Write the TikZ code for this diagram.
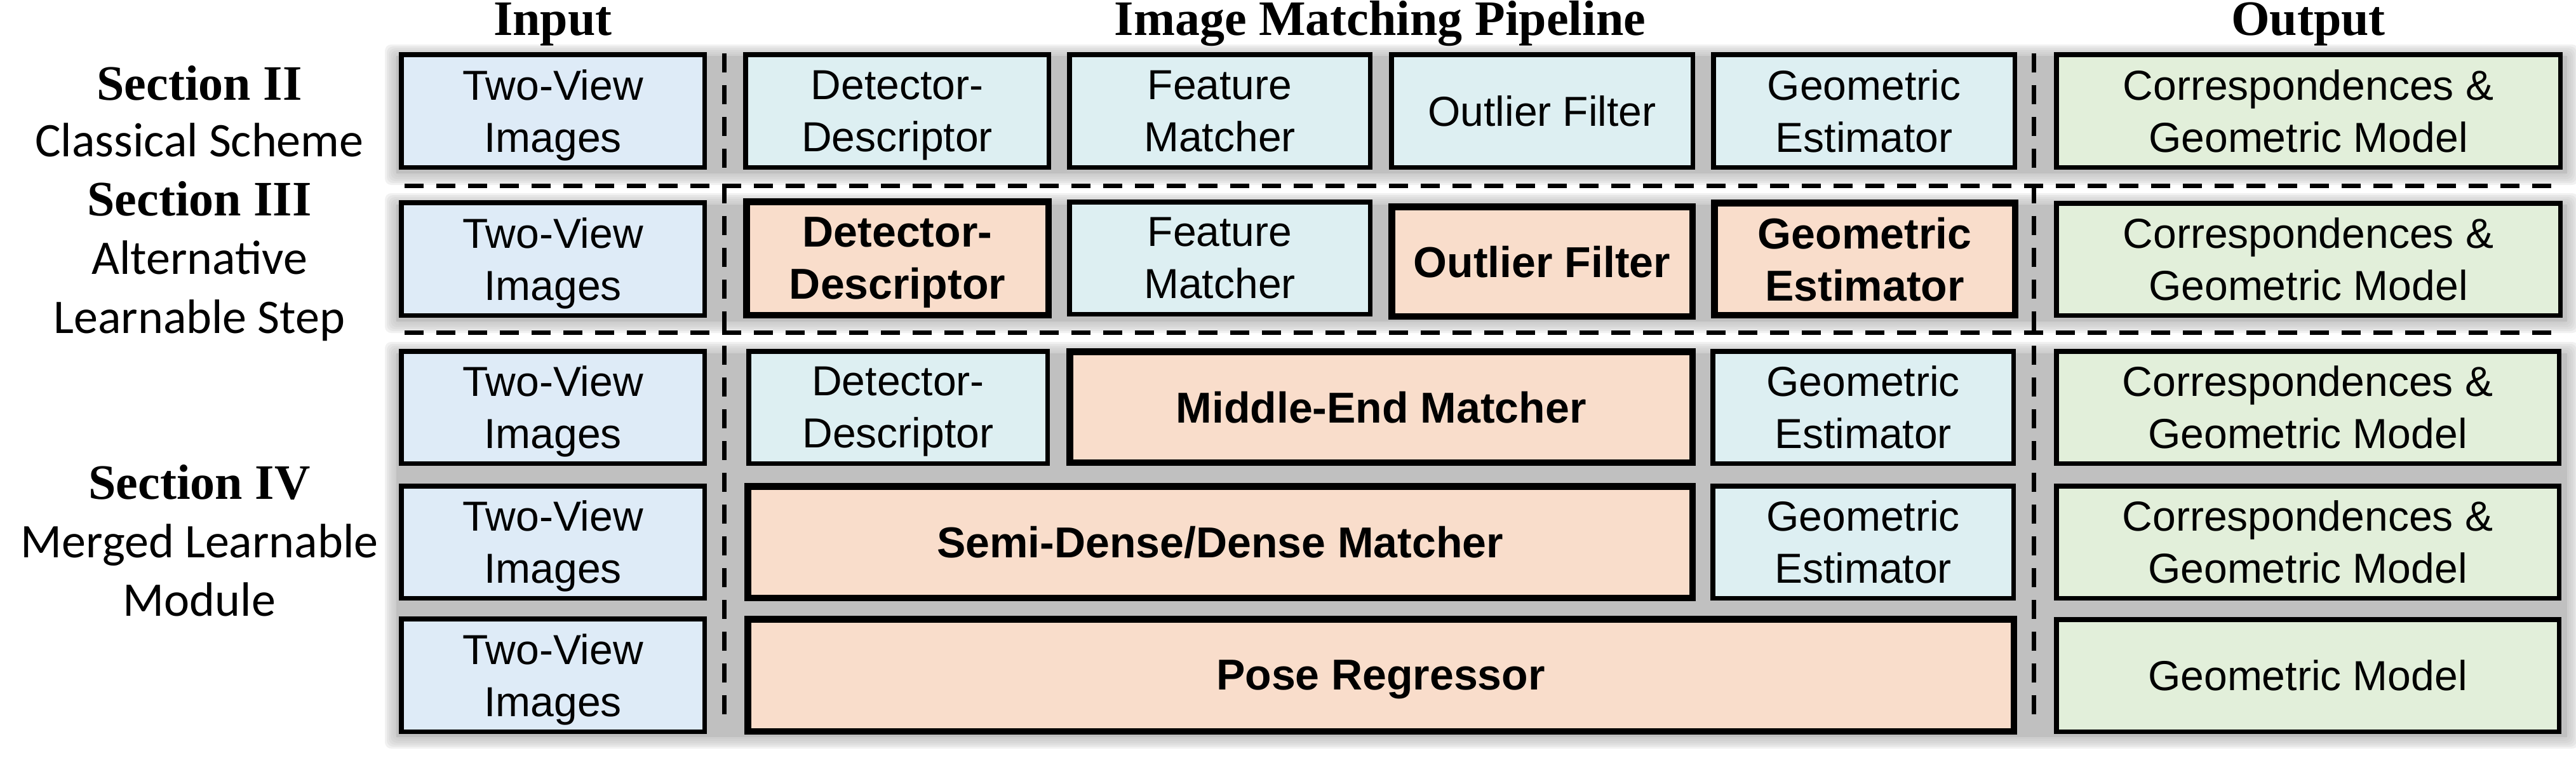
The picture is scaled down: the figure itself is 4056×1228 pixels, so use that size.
\documentclass[tikz,border=0pt]{standalone}
\usepackage{fontspec}
\setmainfont{Liberation Sans}
\newfontfamily\hdfont{Liberation Serif}
\newfontfamily\clfont{Carlito}
\definecolor{inblue}{HTML}{DEEBF7}
\definecolor{pipeblue}{HTML}{DDEFF2}
\definecolor{orng}{HTML}{F9DDCB}
\definecolor{grn}{HTML}{E2EFDA}
\definecolor{shadowgray}{HTML}{C0C0C0}
\tikzset{
 basebox/.style={draw=black, rectangle, inner sep=0pt, outer sep=0pt, align=center, text depth=0pt, font=\fontsize{13.2}{16.4}\selectfont},
 inbox/.style={basebox, fill=inblue, line width=1.5pt},
 pipebox/.style={basebox, fill=pipeblue, line width=1.5pt},
 outbox/.style={basebox, fill=grn, line width=1.5pt},
 learnbox/.style={basebox, fill=orng, line width=2.1pt, font=\fontsize{13.6}{16.4}\selectfont\bfseries},
 header/.style={font=\fontsize{15.6}{18}\selectfont\hdfont\bfseries, anchor=base, inner sep=0pt},
 seclabel/.style={font=\fontsize{15.6}{18}\selectfont\hdfont\bfseries, anchor=base, inner sep=0pt},
 sublabel/.style={font=\fontsize{15.2}{18}\selectfont\clfont, anchor=base, inner sep=0pt},
 sepline/.style={line width=1.4pt, dash pattern=on 6pt off 4pt},
}
% name, style, line width (pt), x1, y1, x2, y2 (px), text
\newcommand\pbox[8]{\node[#2, minimum width={(#6-#4)*0.2-#3}, minimum height={(#7-#5)*0.2-#3}] (#1) at ({(#4+#6)/2},{(#5+#7)/2}) {#8};}
\newcommand\shadowpanel[4]{%
 \foreach \k in {1,...,6}{\fill[shadowgray, opacity=0.22, rounded corners=2pt] ({#1-3*\k},{#2-3*\k}) rectangle ({#3+3*\k},{#4+3*\k});}
 \fill[shadowgray] (#1,#2) rectangle (#3,#4);}
\begin{document}
\begin{tikzpicture}[x=0.2pt, y=-0.2pt]
\useasboundingbox (0,0) rectangle (4056,1228);
% shadow panels
\shadowpanel{624}{88}{4042}{273}
\shadowpanel{624}{322}{4042}{506}
\shadowpanel{624}{556}{4042}{1160}
% headers
\node[header] (hin) at (870.5,55) {Input};
\node[header] (hpipe) at (2173,55) {Image Matching Pipeline};
\node[header] (hout) at (3634.5,55) {Output};
% section labels
\node[seclabel] (s2) at (314,157) {Section II};
\node[sublabel] (s2a) at (314,246) {Classical Scheme};
\node[seclabel] (s3) at (314,339) {Section III};
\node[sublabel] (s3a) at (314,431) {Alternative};
\node[sublabel] (s3b) at (314,524) {Learnable Step};
\node[seclabel] (s4) at (314,785) {Section IV};
\node[sublabel] (s4a) at (314,877) {Merged Learnable};
\node[sublabel] (s4b) at (314,969) {Module};
% row 1
\pbox{in1}{inbox}{1.5}{628}{82}{1113}{267}{Two-View\\Images}
\pbox{r1a}{pipebox}{1.5}{1170}{82}{1655}{267}{Detector-\\Descriptor}
\pbox{r1b}{pipebox}{1.5}{1680}{82}{2161}{267}{Feature\\Matcher}
\pbox{r1c}{pipebox}{1.5}{2187}{82}{2669}{267}{Outlier Filter}
\pbox{r1d}{pipebox}{1.5}{2694}{82}{3176}{267}{Geometric\\Estimator}
\pbox{out1}{outbox}{1.5}{3234}{82}{4035}{267}{Correspondences \&\\Geometric Model}
% row 2
\pbox{in2}{inbox}{1.5}{628}{315}{1113}{500}{Two-View\\Images}
\pbox{r2a}{learnbox}{2.1}{1170}{312}{1656}{501}{Detector-\\Descriptor}
\pbox{r2b}{pipebox}{1.5}{1680}{314}{2161}{498}{Feature\\Matcher}
\pbox{r2c}{learnbox}{2.1}{2186}{320}{2670}{503}{Outlier Filter}
\pbox{r2d}{learnbox}{2.1}{2694}{314}{3178}{501}{Geometric\\Estimator}
\pbox{out2}{outbox}{1.5}{3234}{316}{4035}{500}{Correspondences \&\\Geometric Model}
% row 3
\pbox{in3}{inbox}{1.5}{628}{549}{1113}{733}{Two-View\\Images}
\pbox{r3a}{pipebox}{1.5}{1175}{549}{1653}{733}{Detector-\\Descriptor}
\pbox{r3b}{learnbox}{2.1}{1679}{548}{2670}{733}{Middle-End Matcher}
\pbox{r3d}{pipebox}{1.5}{2693}{549}{3174}{733}{Geometric\\Estimator}
\pbox{out3}{outbox}{1.5}{3234}{549}{4033}{733}{Correspondences \&\\Geometric Model}
% row 4
\pbox{in4}{inbox}{1.5}{628}{761}{1113}{945}{Two-View\\Images}
\pbox{r4a}{learnbox}{2.1}{1172}{760}{2670}{946}{Semi-Dense/Dense Matcher}
\pbox{r4d}{pipebox}{1.5}{2693}{761}{3174}{945}{Geometric\\Estimator}
\pbox{out4}{outbox}{1.5}{3234}{761}{4033}{945}{Correspondences \&\\Geometric Model}
% row 5
\pbox{in5}{inbox}{1.5}{628}{970}{1113}{1155}{Two-View\\Images}
\pbox{r5a}{learnbox}{2.1}{1172}{969}{3176}{1156}{Pose Regressor}
\pbox{out5}{outbox}{1.5}{3234}{971}{4033}{1155}{Geometric Model}
% separators
\draw[sepline] (637,292.5) -- (4025,292.5);
\draw[sepline] (637,523.5) -- (4025,523.5);
\foreach \xx in {1140,3202}{
 \draw[sepline] (\xx,84) -- (\xx,267);
 \draw[sepline] (\xx,289.5) -- (\xx,526);
 \draw[sepline] (\xx,544) -- (\xx,1140);
}
\end{tikzpicture}
\end{document}
